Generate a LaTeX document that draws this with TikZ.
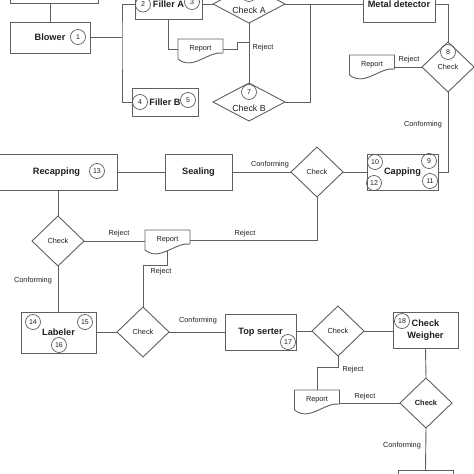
\documentclass[tikz,border=0pt]{standalone}
\usepackage{fontspec}
\setmainfont{Liberation Sans}
\usetikzlibrary{shapes.geometric,calc}
\definecolor{ln}{RGB}{95,95,95}
\definecolor{tx}{RGB}{30,30,30}
\tikzset{
  conn/.style={draw=ln, line width=0.9pt},
  box/.style={draw=ln, line width=0.9pt, rectangle, inner sep=0pt, outer sep=0pt, text=tx, font=\fontsize{9.2}{11}\selectfont\bfseries, align=center},
  dia/.style={draw=ln, line width=0.9pt, diamond, inner sep=0pt, outer sep=0pt, minimum width=52pt, minimum height=50pt, text=tx, font=\fontsize{7.3}{9}\selectfont},
  diab/.style={dia, font=\fontsize{7.4}{9}\selectfont\bfseries},
  diaw/.style={draw=ln, line width=0.9pt, diamond, aspect=2, inner sep=0pt, outer sep=0pt, minimum width=72pt, minimum height=38pt},
  num/.style={draw=ln, line width=0.7pt, circle, inner sep=0pt, minimum size=15pt, text=tx, font=\fontsize{7}{8}\selectfont},
  lbl/.style={text=tx, font=\fontsize{7.3}{9}\selectfont, inner sep=0pt},
  chk/.style={text=tx, font=\fontsize{8.8}{10}\selectfont, inner sep=0pt},
  repnode/.style={rectangle, inner sep=0pt, outer sep=0pt, minimum width=45pt, minimum height=20pt, text=tx, font=\fontsize{7.3}{9}\selectfont},
}
\newcommand\repshape[1]{\draw[conn] (#1.north east) -- (#1.north west) -- (#1.south west) .. controls +(15,12) and +(-15,-2) .. ([yshift=6pt]#1.south east) -- cycle;}
\begin{document}
\begin{tikzpicture}[x=1pt,y=-1pt]
\useasboundingbox (0,0) rectangle (474,474);
\clip (0,0) rectangle (474,474);
% nodes
\node[box, minimum width=88pt, minimum height=24pt] (top) at (54,-9) {};
\node[box, minimum width=80pt, minimum height=31pt] (blower) at (50,37.5) {Blower};
\node[num] (n1) at (78,37) {1};
\node[box, minimum width=67pt, minimum height=30pt] (fillA) at (168.5,4) {Filler A};
\node[num] (n2) at (143,4.5) {2};
\node[num] (n3) at (192,2) {3};
\node[box, minimum width=66pt, minimum height=28pt] (fillB) at (165,102) {Filler B};
\node[num] (n4) at (140,102) {4};
\node[num] (n5) at (188,100) {5};
\node[diaw] (chkA) at (249,4) {};
\node[num] (n6) at (249,-6) {};
\node[chk] (chkAt) at (249,10) {Check A};
\node[diaw] (chkB) at (249,102) {};
\node[num] (n7) at (249,92) {7};
\node[chk] (chkBt) at (249,108.5) {Check B};
\node[repnode] (repA) at (200.5,49) {Report};
\repshape{repA}
\node[box, minimum width=72pt, minimum height=36pt] (metal) at (399,4) {Metal detector};
\node[dia] (chk8) at (448,67) {Check};
\node[num] (n8) at (448,52) {8};
\node[repnode] (rep8) at (372,65) {Report};
\repshape{rep8}
\node[box, minimum width=71pt, minimum height=36pt] (capping) at (402.5,172) {Capping};
\node[num] (n9) at (429,161) {9};
\node[num] (n10) at (375,162) {10};
\node[num] (n11) at (430,181) {11};
\node[num] (n12) at (374,183) {12};
\node[dia] (chkM) at (317,172) {Check};
\node[box, minimum width=67pt, minimum height=36pt] (sealing) at (198.5,172) {Sealing};
\node[box, minimum width=121pt, minimum height=36pt] (recap) at (56.5,172) {Recapping};
\node[num] (n13) at (97,171) {13};
\node[dia] (chkL) at (58,241) {Check};
\node[repnode] (repM) at (167.5,240) {Report};
\repshape{repM}
\node[box, minimum width=75pt, minimum height=41pt] (label) at (58.5,332.5) {Labeler};
\node[num] (n14) at (33,322) {14};
\node[num] (n15) at (85,322) {15};
\node[num] (n16) at (59,345) {16};
\node[dia] (chkB1) at (143,332) {Check};
\node[box, minimum width=71pt, minimum height=36pt] (tops) at (260.5,332) {Top serter};
\node[num] (n17) at (288,342) {17};
\node[dia] (chkB2) at (338,331) {Check};
\node[box, minimum width=65pt, minimum height=36pt, font=\fontsize{9.2}{12}\selectfont\bfseries] (cw) at (425.5,330) {Check\\Weigher};
\node[num] (n18) at (402,321) {18};
\node[diab] (chkW) at (426,403) {Check};
\node[repnode] (repB) at (317,400) {Report};
\repshape{repB}
\node[box, minimum width=55pt, minimum height=30pt] (bot) at (425.5,485) {};
% connectors
\draw[conn] (blower.north) -- (blower.north |- top.south);
\coordinate (jb) at (122,37.5);
\draw[conn] (blower.east) -- (jb);
\draw[conn] (fillA.west) -| (jb) |- (fillB.west);
\draw[conn] (fillA.east) -- (chkA.west);
\draw[conn] (chkA.east) -- (metal.west);
\coordinate (jm) at (310,4);
\draw[conn] (chkB.east) -| (jm);
\draw[conn] (chkA.south) -- (chkB.north);
\coordinate (jr) at (249,42);
\draw[conn] (fillA.south) |- (repA.west);
\draw[conn] (repA.east) -- ++(14,0) |- (jr);
\draw[conn] (metal.east) -| (chk8.north);
\draw[conn] (chk8.west) -- (chk8.west -| rep8.east);
\draw[conn] (chk8.south) |- (capping.east);
\draw[conn] (chkM.east) -- (capping.west);
\draw[conn] (sealing.east) -- (chkM.west);
\draw[conn] (recap.east) -- (sealing.west);
\draw[conn] (chkL.north) -- (chkL.north |- recap.south);
\draw[conn] (chkL.east) -- (chkL.east -| repM.west);
\draw[conn] (repM.east) -| (chkM.south);
\draw[conn] (repM.south) -- ++(0,15) -| (chkB1.north);
\draw[conn] (chkL.south) -- (chkL.south |- label.north);
\draw[conn] (chkB1.west) -- (chkB1.west -| label.east);
\draw[conn] (chkB1.east) -- (tops.west);
\draw[conn] (chkB2.west) -- (chkB2.west -| tops.east);
\draw[conn] (chkB2.east) -- (chkB2.east -| cw.west);
\draw[conn] (cw.south) -- (chkW.north);
\draw[conn] (chkW.west) -- (chkW.west -| repB.east);
\draw[conn] (chkB2.south) -- ++(0,11) -| (repB.north);
\draw[conn] (chkW.south) -- (bot.north);
% labels
\node[lbl] (lr1) at (263,48) {Reject};
\node[lbl] (lr2) at (409,59.5) {Reject};
\node[lbl] (lc1) at (423,125) {Conforming};
\node[lbl] (lc2) at (270,165) {Conforming};
\node[lbl] (lr3) at (245,234) {Reject};
\node[lbl] (lr4) at (119,234) {Reject};
\node[lbl] (lr5) at (161,272) {Reject};
\node[lbl] (lc3) at (33,281) {Conforming};
\node[lbl] (lc4) at (198,321) {Conforming};
\node[lbl] (lr6) at (353,370) {Reject};
\node[lbl] (lr7) at (365,397) {Reject};
\node[lbl] (lc5) at (402,445.5) {Conforming};
\end{tikzpicture}
\end{document}
